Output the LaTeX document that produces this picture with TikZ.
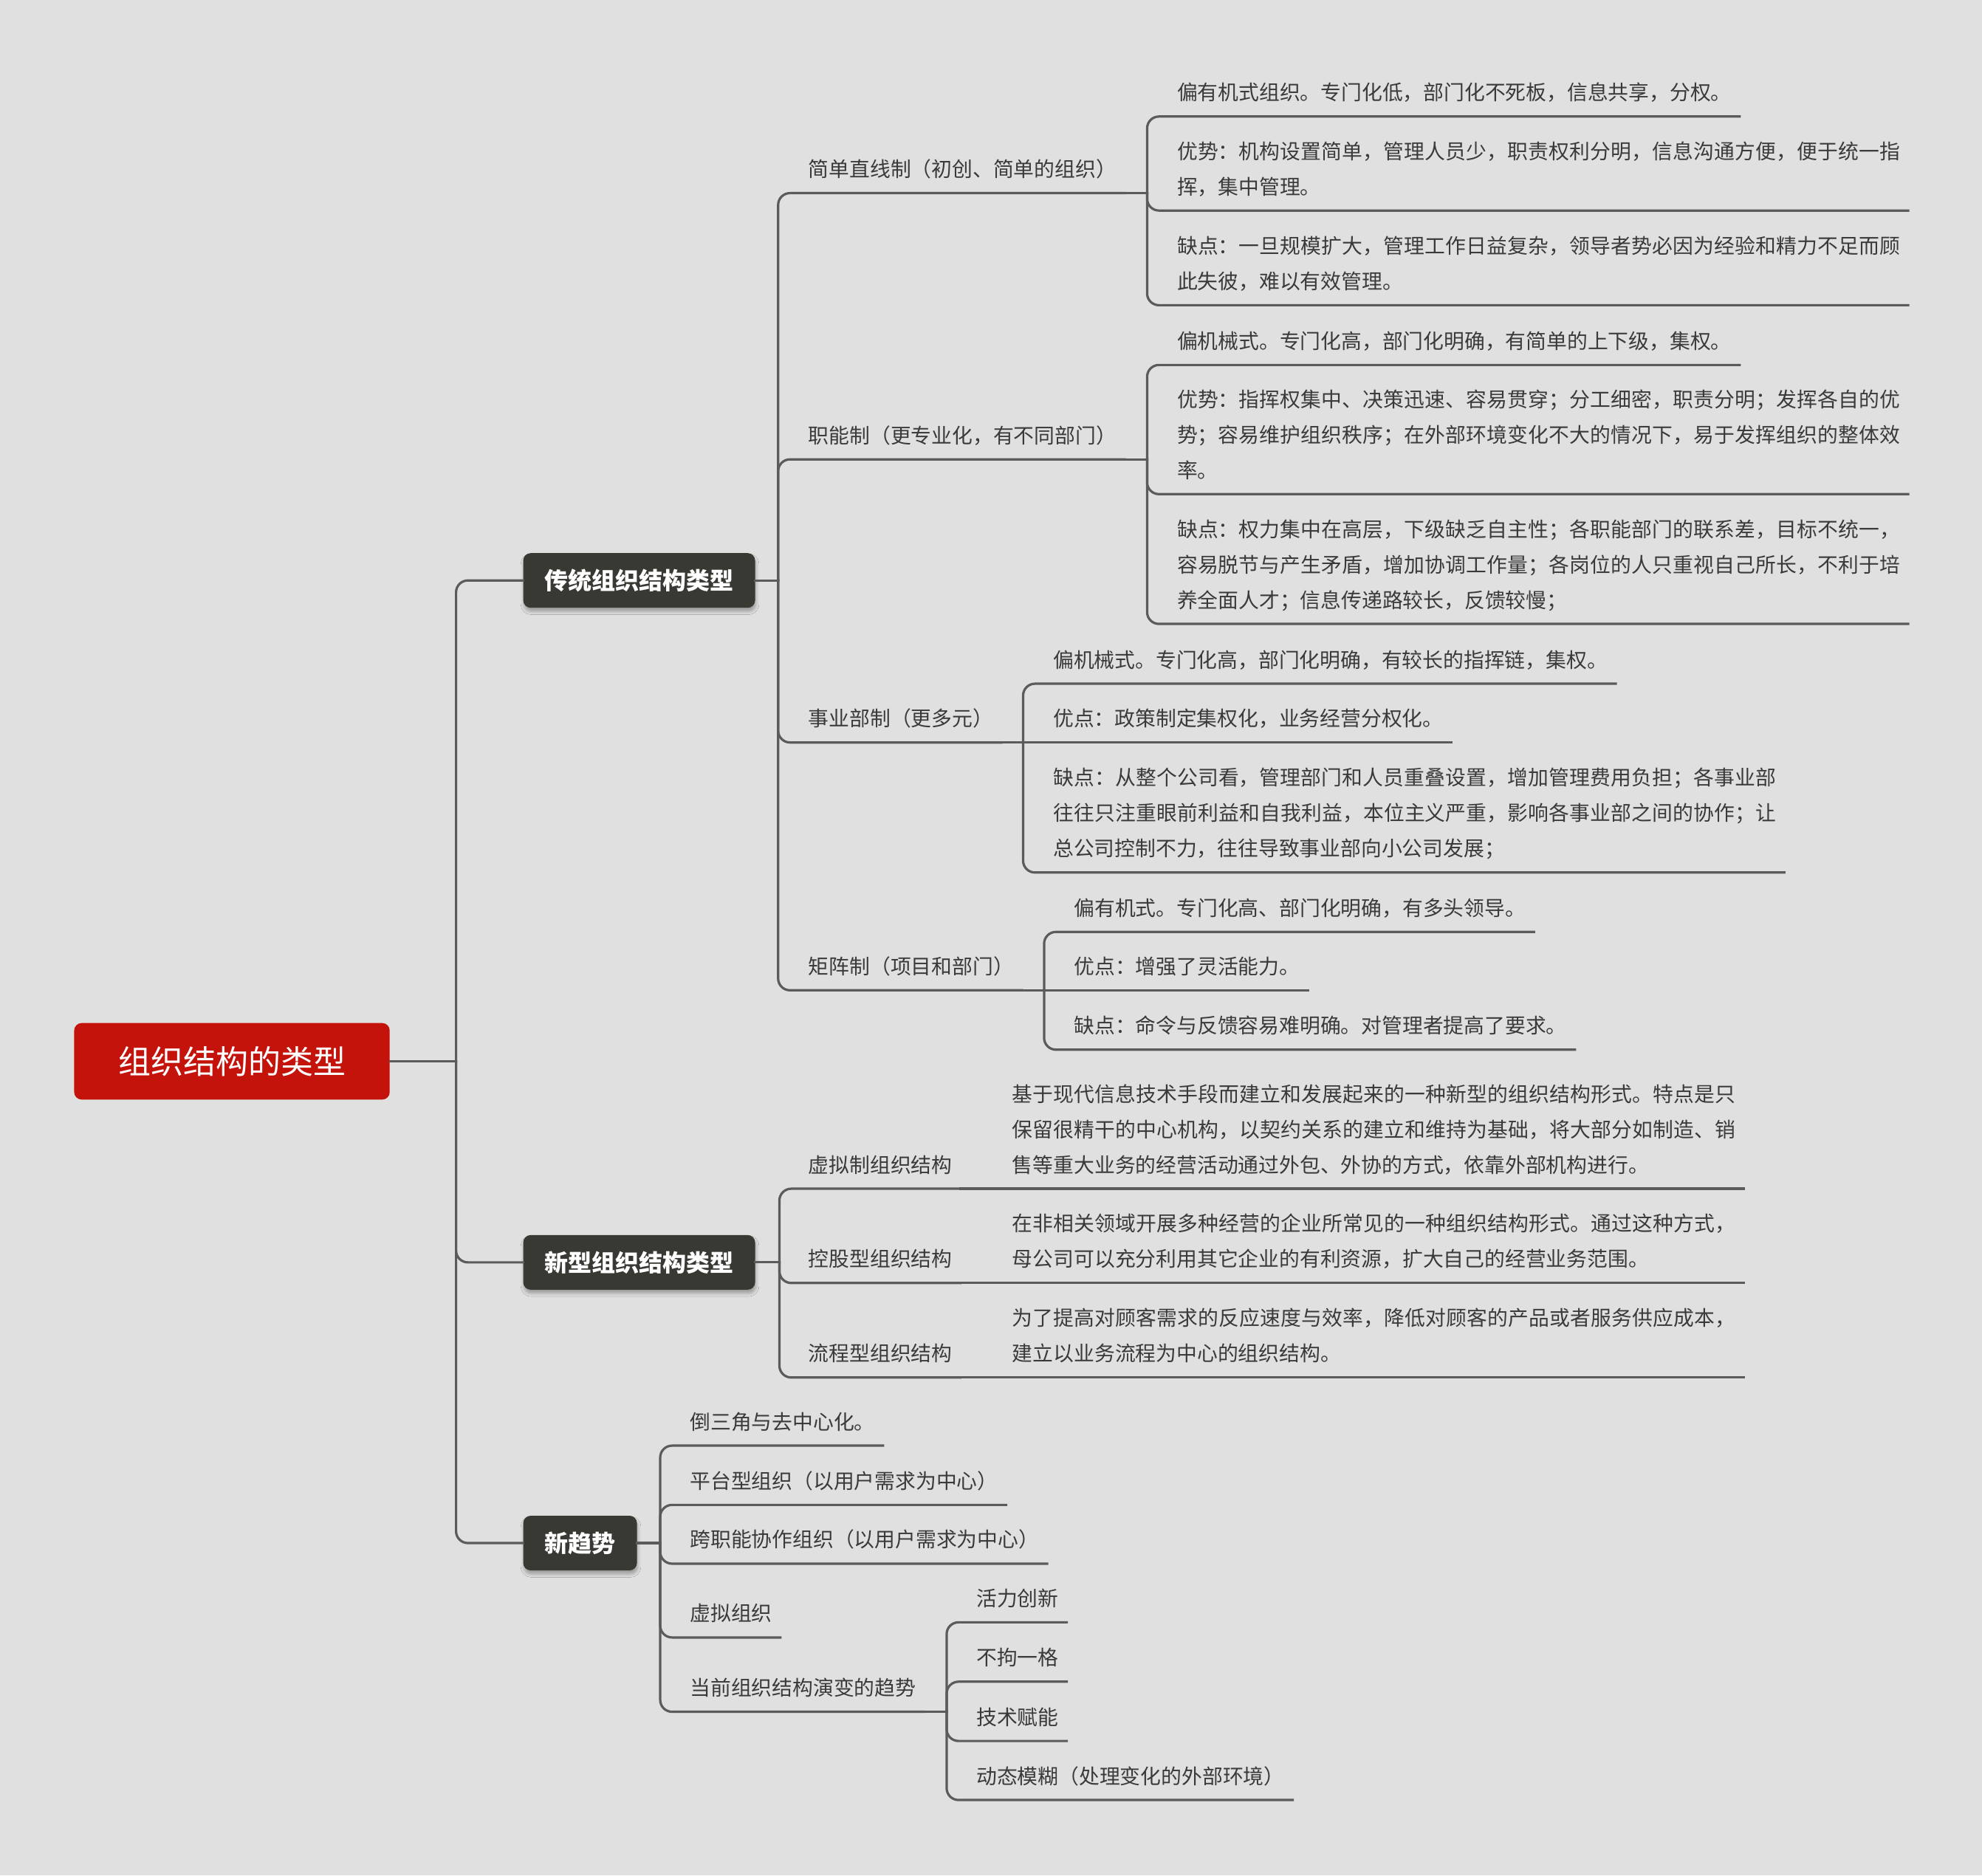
\documentclass[tikz,border=0pt]{standalone}
\usepackage{fontspec}
\setmainfont{Noto Sans CJK SC}
\usepackage{tikz}
\usetikzlibrary{shadows.blur}
\usepackage{xcolor}
\definecolor{MapBack}{HTML}{E0E0E0}
\definecolor{MapRed}{HTML}{C3130A}
\definecolor{MapDark}{HTML}{393934}
\definecolor{MapLine}{HTML}{5B5B5B}
\definecolor{MapText}{HTML}{3A3A3A}
\XeTeXlinebreaklocale "zh"
\XeTeXlinebreakskip=0pt plus 1pt
\newcommand{\mmstrut}{\rule[-3pt]{0pt}{12pt}}

\begin{document}
\begin{tikzpicture}[
            x=0.8558pt, y=-0.8558pt,
            font=\fontsize{13.9}{24}\selectfont,
            line/.style={draw=MapLine, line width=1.6pt, line cap=rect},
            elbow/.style={line, rounded corners=8pt},
            root/.style={
                rectangle, rounded corners=5pt,
                fill=MapRed, text=white,
                font=\fontsize{22}{26}\selectfont,
                minimum width=213.6pt, minimum height=51.8pt
            },
            hub/.style={
                rectangle, rounded corners=5pt, anchor=west,
                fill=MapDark, text=white,
                font=\fontsize{16}{20}\selectfont\bfseries,
                inner xsep=14.5pt, minimum height=37pt,
                blur shadow={shadow blur steps=5, shadow xshift=0.5pt, shadow yshift=-2.5pt, shadow opacity=30}
            },
            topic/.style={anchor=south west, text=MapText, inner xsep=5.3pt, inner ysep=7.8pt, execute at end node=\mmstrut},
            desc/.style={topic, text width=489.5pt, align=justify}
        ]
        \fill[MapBack] (0,0) rectangle (1568,1484);

        % --- Root and main branches ---
        \node[root] (root) at (183.5,839.8) {组织结构的类型};
        \node[hub] (trad) at (413.7,459.3) {传统组织结构类型};
        \node[hub] (newt) at (413.7,998.9) {新型组织结构类型};
        \node[hub] (trend) at (413.7,1221) {新趋势};

        \coordinate (rootJ) at (360.8,839.8);
        \path[line] (root.east) -- (rootJ);
        \path[elbow] (rootJ) |- (trad.west);
        \path[elbow] (rootJ) |- (newt.west);
        \path[elbow] (rootJ) |- (trend.west);

        % --- Traditional types ---
        \node[topic] (simple) at (633.2,152.8) {简单直线制（初创、简单的组织）};
        \node[topic] (func) at (633.2,363.5) {职能制（更专业化，有不同部门）};
        \node[topic] (busi) at (633.2,587.5) {事业部制（更多元）};
        \node[topic] (mtx) at (633.2,783.6) {矩阵制（项目和部门）};

        \coordinate (tradJ) at (615.6,459.3);
        \path[line] (trad.east) -- (tradJ);
        \path[elbow] (tradJ) |- (simple.south east);
        \path[elbow] (tradJ) |- (func.south east);
        \path[elbow] (tradJ) |- (busi.south east);
        \path[elbow] (tradJ) |- (mtx.south east);

        \node[topic] (s1) at (924.8,92.2) {偏有机式组织。专门化低，部门化不死板，信息共享，分权。};
        \node[desc] (s2) at (924.8,166.6) {优势：机构设置简单，管理人员少，职责权利分明，信息沟通方便，便于统一指\linebreak 挥，集中管理。};
        \node[desc] (s3) at (924.8,241.5) {缺点：一旦规模扩大，管理工作日益复杂，领导者势必因为经验和精力不足而顾\linebreak 此失彼，难以有效管理。};
        \coordinate (simpleJ) at (907.5,152.8);
        \path[line] (simple.south east) -- (simpleJ);
        \path[elbow] (simpleJ) |- (s1.south east);
        \path[elbow] (simpleJ) |- (s2.south east);
        \path[elbow] (simpleJ) |- (s3.south east);

        \node[topic] (f1) at (924.8,288.8) {偏机械式。专门化高，部门化明确，有简单的上下级，集权。};
        \node[desc] (f2) at (924.8,391) {优势：指挥权集中、决策迅速、容易贯穿；分工细密，职责分明；发挥各自的优\linebreak 势；容易维护组织秩序；在外部环境变化不大的情况下，易于发挥组织的整体效\linebreak 率。};
        \node[desc] (f3) at (924.8,493.7) {缺点：权力集中在高层，下级缺乏自主性；各职能部门的联系差，目标不统一，\linebreak 容易脱节与产生矛盾，增加协调工作量；各岗位的人只重视自己所长，不利于培\linebreak 养全面人才；信息传递路较长，反馈较慢；};
        \coordinate (funcJ) at (907.5,363.5);
        \path[line] (func.south east) -- (funcJ);
        \path[elbow] (funcJ) |- (f1.south east);
        \path[elbow] (funcJ) |- (f2.south east);
        \path[elbow] (funcJ) |- (f3.south east);

        \node[topic] (b1) at (826.8,541) {偏机械式。专门化高，部门化明确，有较长的指挥链，集权。};
        \node[topic] (b2) at (826.8,587.5) {优点：政策制定集权化，业务经营分权化。};
        \node[desc] (b3) at (826.8,690.4) {缺点：从整个公司看，管理部门和人员重叠设置，增加管理费用负担；各事业部\linebreak 往往只注重眼前利益和自我利益，本位主义严重，影响各事业部之间的协作；让\linebreak 总公司控制不力，往往导致事业部向小公司发展；};
        \coordinate (busiJ) at (809.4,587.5);
        \path[line] (busi.south east) -- (busiJ);
        \path[elbow] (busiJ) |- (b1.south east);
        \path[line] (busiJ) -- (b2.south east);
        \path[elbow] (busiJ) |- (b3.south east);

        \node[topic] (m1) at (843.3,737.4) {偏有机式。专门化高、部门化明确，有多头领导。};
        \node[topic] (m2) at (843.3,783.6) {优点：增强了灵活能力。};
        \node[topic] (m3) at (843.3,830.6) {缺点：命令与反馈容易难明确。对管理者提高了要求。};
        \coordinate (mtxJ) at (826,783.6);
        \path[line] (mtx.south east) -- (mtxJ);
        \path[elbow] (mtxJ) |- (m1.south east);
        \path[line] (mtxJ) -- (m2.south east);
        \path[elbow] (mtxJ) |- (m3.south east);

        % --- New types ---
        \node[topic] (virt) at (633.2,940.6) {虚拟制组织结构};
        \node[topic] (hold) at (633.2,1015.2) {控股型组织结构};
        \node[topic] (flow) at (633.2,1090) {流程型组织结构};
        \node[desc] (virtdesc) at (794.5,940.6) {基于现代信息技术手段而建立和发展起来的一种新型的组织结构形式。特点是只\linebreak 保留很精干的中心机构，以契约关系的建立和维持为基础，将大部分如制造、销\linebreak 售等重大业务的经营活动通过外包、外协的方式，依靠外部机构进行。};
        \node[desc] (holddesc) at (794.5,1015.2) {在非相关领域开展多种经营的企业所常见的一种组织结构形式。通过这种方式，\linebreak 母公司可以充分利用其它企业的有利资源，扩大自己的经营业务范围。};
        \node[desc] (flowdesc) at (794.5,1090) {为了提高对顾客需求的反应速度与效率，降低对顾客的产品或者服务供应成本，\linebreak 建立以业务流程为中心的组织结构。};

        \coordinate (newtJ) at (616.6,998.9);
        \path[line] (newt.east) -- (newtJ);
        \path[elbow] (newtJ) |- (virt.south east);
        \path[elbow] (newtJ) |- (hold.south east);
        \path[elbow] (newtJ) |- (flow.south east);
        \path[line] (virt.south east) -- (virtdesc.south east);
        \path[line] (hold.south east) -- (holddesc.south east);
        \path[line] (flow.south east) -- (flowdesc.south east);

        % --- New trends ---
        \node[topic] (t1) at (539.5,1143.9) {倒三角与去中心化。};
        \node[topic] (t2) at (539.5,1190.8) {平台型组织（以用户需求为中心）};
        \node[topic] (t3) at (539.5,1237.3) {跨职能协作组织（以用户需求为中心）};
        \node[topic] (t4) at (539.5,1295.7) {虚拟组织};
        \node[topic] (t5) at (539.5,1354.5) {当前组织结构演变的趋势};

        \coordinate (trendJ) at (522.3,1221);
        \path[line] (trend.east) -- (trendJ);
        \foreach \k in {1,...,5}
            \path[elbow] (trendJ) |- (t\k.south east);

        \node[topic] (c1) at (766.1,1283.7) {活力创新};
        \node[topic] (c2) at (766.1,1330.7) {不拘一格};
        \node[topic] (c3) at (766.1,1377.6) {技术赋能};
        \node[topic] (c4) at (766.1,1424.3) {动态模糊（处理变化的外部环境）};

        \coordinate (curJ) at (748.9,1354.5);
        \path[line] (t5.south east) -- (curJ);
        \foreach \k in {1,...,4}
            \path[elbow] (curJ) |- (c\k.south east);

        \end{tikzpicture}
\end{document}
